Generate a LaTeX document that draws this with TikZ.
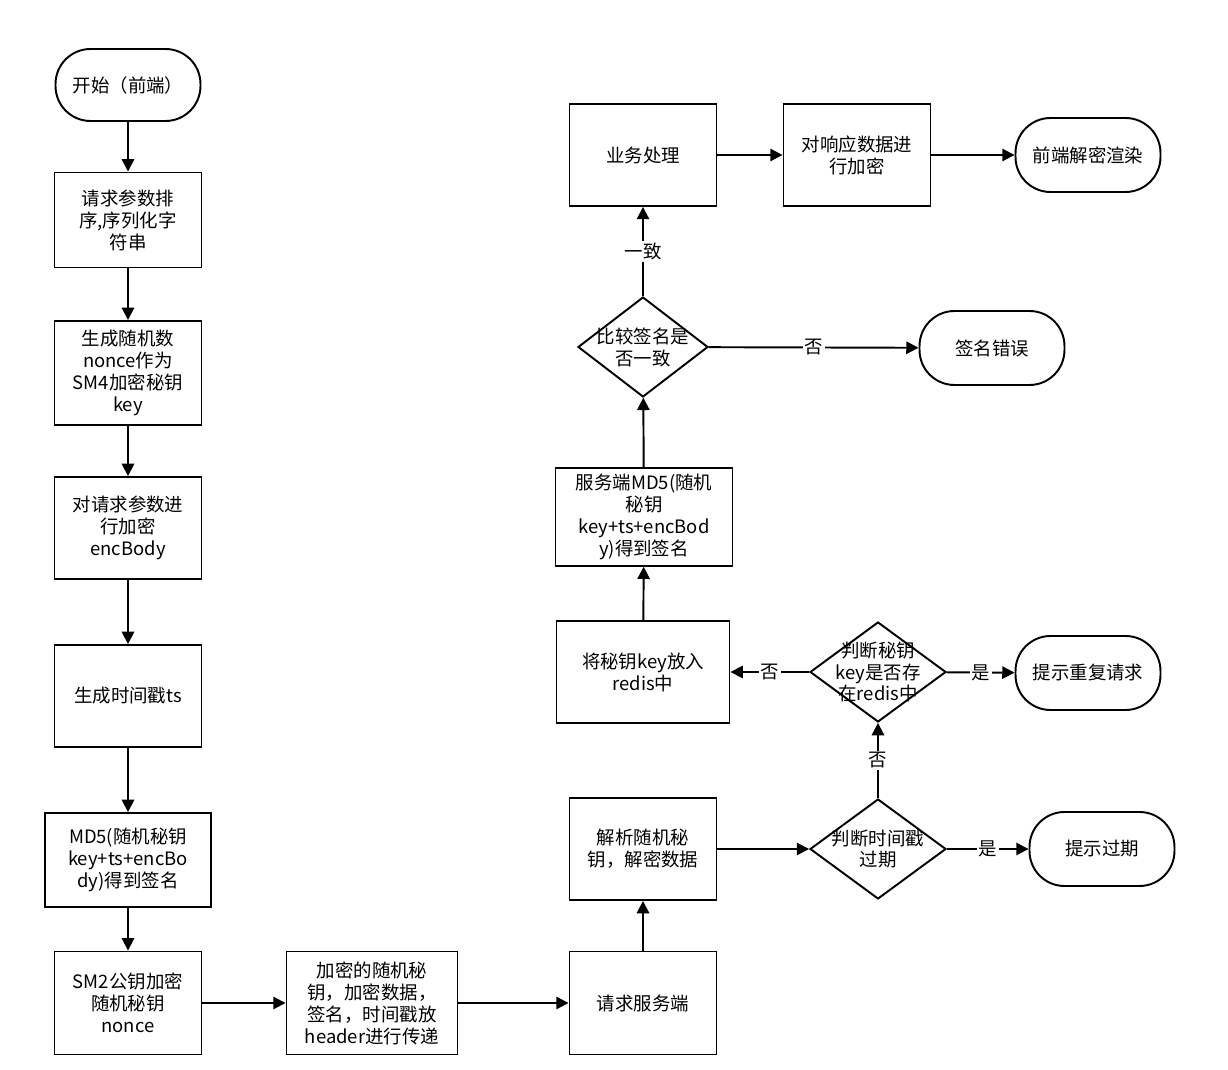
\documentclass[tikz,border=0pt]{standalone}
\usepackage{fontspec}
\setmainfont{Noto Sans CJK SC}
\usetikzlibrary{shapes.geometric,arrows.meta}
\tikzset{
  box/.style={draw, line width=1.1pt, minimum width=2.94cm, minimum height=2.04cm, align=center, font=\fontsize{10.5}{12.5}\selectfont},
  term/.style={draw, line width=1.1pt, rounded corners=0.7cm, minimum width=2.9cm, minimum height=1.48cm, align=center, font=\fontsize{10.5}{12.5}\selectfont},
  dec/.style={draw, line width=1.1pt, diamond, aspect=1.36, inner sep=-7pt, minimum width=2.72cm, minimum height=2cm, align=center, font=\fontsize{10.5}{12.5}\selectfont},
  flow/.style={draw, line width=1.1pt, -{Triangle[length=7pt,width=7pt]}},
  lab/.style={fill=white, inner sep=1pt, font=\fontsize{10.5}{12.5}\selectfont}
}
\begin{document}
\begin{tikzpicture}[x=0.02cm, y=-0.02cm]
  \useasboundingbox (0,0) rectangle (1228,1070);
  % left column
  \node [term, minimum height=1.44cm] (start) at (128,85) {开始（前端）};
  \node [box, minimum height=1.9cm] (sort) at (128,220) {请求参数排\\序,序列化字\\符串};
  \node [box, minimum height=2.08cm] (nonce) at (128,373) {生成随机数\\nonce作为\\SM4加密秘钥\\key};
  \node [box] (enc) at (128,528) {对请求参数进\\行加密\\encBody};
  \node [box] (ts) at (128,696) {生成时间戳ts};
  \node [box, minimum width=3.32cm, minimum height=1.88cm] (md5) at (128,860) {MD5(随机秘钥\\key+ts+encBo\\dy)得到签名};
  \node [box, minimum height=2.06cm] (sm2) at (128,1003) {SM2公钥加密\\随机秘钥\\nonce};
  % bottom row
  \node [box, minimum width=3.42cm, minimum height=2.06cm] (header) at (372,1003) {加密的随机秘\\钥，加密数据，\\签名，时间戳放\\header进行传递};
  \node [box, minimum height=2.06cm] (req) at (643,1003) {请求服务端};
  % server side
  \node [box] (parse) at (643,849) {解析随机秘\\钥，解密数据};
  \node [dec] (expire) at (878,849) {判断时间戳\\过期};
  \node [term] (tipexp) at (1102,849) {提示过期};
  \node [dec] (exist) at (878,672) {判断秘钥\\key是否存\\在redis中};
  \node [term] (tiprep) at (1088,673) {提示重复请求};
  \node [box, minimum width=3.46cm] (store) at (643,672) {将秘钥key放入\\redis中};
  \node [box, minimum width=3.54cm, minimum height=1.72cm] (smd5) at (644,517) {服务端MD5(随机\\秘钥\\key+ts+encBod\\y)得到签名};
  \node [dec, minimum width=2.6cm] (cmp) at (643,347) {比较签名是\\否一致};
  \node [term] (signerr) at (992,348) {签名错误};
  \node [box] (biz) at (643,155) {业务处理};
  \node [box] (resp) at (857,155) {对响应数据进\\行加密};
  \node [term] (render) at (1088,155) {前端解密渲染};
  % connectors
  \draw [flow] (start) -- (sort);
  \draw [flow] (sort) -- (nonce);
  \draw [flow] (nonce) -- (enc);
  \draw [flow] (enc) -- (ts);
  \draw [flow] (ts) -- (md5);
  \draw [flow] (md5) -- (sm2);
  \draw [flow] (sm2) -- (header);
  \draw [flow] (header) -- (req);
  \draw [flow] (req) -- (parse);
  \draw [flow] (parse) -- (expire);
  \draw [flow] (expire) -- node [lab] {是} (tipexp);
  \draw [flow] (expire) -- node [lab] {否} (exist);
  \draw [flow] (exist) -- node [lab] {是} (tiprep);
  \draw [flow] (exist) -- node [lab] {否} (store);
  \draw [flow] (store) -- (smd5);
  \draw [flow] (smd5) -- (cmp);
  \draw [flow] (cmp) -- node [lab] {否} (signerr);
  \draw [flow] (cmp) -- node [lab] {一致} (biz);
  \draw [flow] (biz) -- (resp);
  \draw [flow] (resp) -- (render);
\end{tikzpicture}
\end{document}
